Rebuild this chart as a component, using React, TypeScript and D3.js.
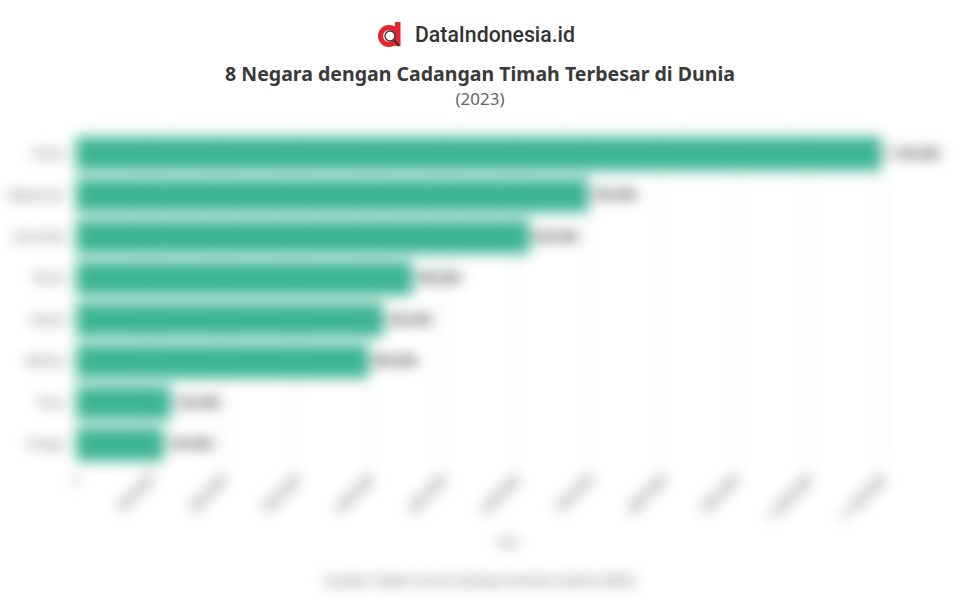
import React from "react";
import * as d3 from "d3";

const countries = ["China", "Myanmar", "Australia", "Rusia", "Brasil", "Bolivia", "Peru", "Kongo"];
const reserves = [1100000, 700000, 620000, 460000, 420000, 400000, 130000, 120000];
const xTicks = [0, 100000, 200000, 300000, 400000, 500000, 600000, 700000, 800000, 900000, 1000000, 1100000];

const fmt = (v: number) => d3.format(",")(v).replace(/,/g, ".");

export default function App() {
  const x = d3.scaleLinear().domain([0, 1100000]).range([76, 881]);
  const y = d3.scaleBand().domain(countries).range([133, 465]).paddingInner(0.19).paddingOuter(0.095);
  const font = "'Noto Sans', sans-serif";
  return (
    <div style={{ position: "absolute", left: 0, top: 0, width: 960, height: 600, background: "#fff" }}>
      <svg width={960} height={600} style={{ position: "absolute", left: 0, top: 0, filter: "blur(7px)" }}>
        {xTicks.slice(1).map((t) => (
          <line key={t} x1={x(t)} x2={x(t)} y1={133} y2={466} stroke="#e4e4e4" strokeWidth={1.5} />
        ))}
        {countries.map((c, i) => (
          <g key={c}>
            <text x={65} y={y(c)! + y.bandwidth() / 2 + 4} textAnchor="end" fontFamily={font} fontSize={12} fontWeight={600} fill="#777">{c}</text>
            <text x={x(reserves[i]) + 4} y={y(c)! + y.bandwidth() / 2 + 4} fontFamily={font} fontSize={12} fontWeight={700} fill="#222">{fmt(reserves[i])}</text>
            <rect x={x(0)} y={y(c)!} width={x(reserves[i]) - x(0)} height={y.bandwidth()} fill="#3cb592" />
          </g>
        ))}
        {xTicks.map((t) => (
          t === 0
            ? <text key={t} x={x(t)} y={485} textAnchor="middle" fontFamily={font} fontSize={12} fill="#777">0</text>
            : <text key={t} transform={`translate(${x(t) + 6},${480}) rotate(-45)`} textAnchor="end" fontFamily={font} fontSize={13} fontWeight={600} fill="#777">{fmt(t)}</text>
        ))}
        <text x={508} y={547} textAnchor="middle" fontFamily={font} fontSize={13} fontWeight={600} fill="#777">Ton</text>
        <text x={480} y={585} textAnchor="middle" fontFamily={font} fontSize={13} fontWeight={600} fill="#777" textLength={312} lengthAdjust="spacingAndGlyphs">Sumber: Badan Survei Geologi Amerika Serikat (2024)</text>
      </svg>
      <svg width={960} height={120} style={{ position: "absolute", left: 0, top: 0 }}>
        <circle cx={389} cy={36} r={8.5} fill="none" stroke="#e8222e" strokeWidth={5} />
        <rect x={395} y={22} width={5.5} height={24} fill="#e8222e" />
        <circle cx={390} cy={36} r={5} fill="#fff" stroke="#333" strokeWidth={1.3} />
        <line x1={394} y1={40} x2={399} y2={46} stroke="#333" strokeWidth={2} />
        <text x={415} y={42} fontFamily="Roboto, sans-serif" fontWeight={500} fontSize={22} fill="#333" textLength={160} lengthAdjust="spacingAndGlyphs">DataIndonesia.id</text>
        <text x={480} y={81} textAnchor="middle" fontFamily={font} fontWeight={700} fontSize={20} fill="#3a3a3a" textLength={510} lengthAdjust="spacingAndGlyphs">8 Negara dengan Cadangan Timah Terbesar di Dunia</text>
        <text x={480} y={105} textAnchor="middle" fontFamily={font} fontSize={17} fill="#666">(2023)</text>
      </svg>
    </div>
  );
}
